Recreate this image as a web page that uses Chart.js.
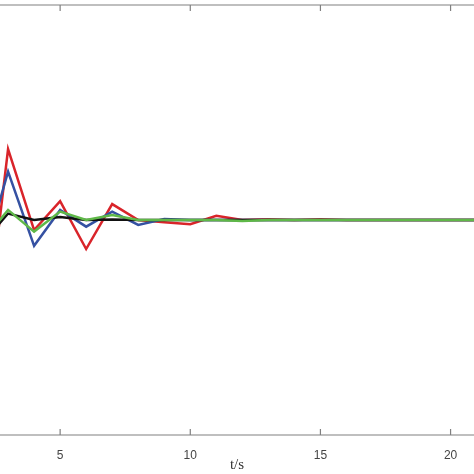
<!DOCTYPE html>
<html><head><meta charset="utf-8">
<script src="https://cdn.jsdelivr.net/npm/chart.js@4"></script>
<style>html,body{margin:0;padding:0;background:#fff}#w{width:474px;height:474px}</style>
</head><body><div id="w"><canvas id="c"></canvas></div>
<script>
const tValues = [2,3,4,5,6,7,8,9,10,11,12,13,14,15,16,17,18,19,20,21];
const red   = [-0.69,0.33,-0.047,0.088,-0.135,0.074,0.0,-0.01,-0.02,0.02,0.0,0.003,0.0,0.004,0.0,0.0,0.0,0.0,0.0,0.0];
const blue  = [-0.2,0.225,-0.12,0.047,-0.031,0.039,-0.023,0.005,0.0,0.0,0.0,0.0,0.0,0.0,0.0,0.0,0.0,0.0,0.0,0.0];
const black = [-0.11,0.03,0.0,0.014,0.0,0.002,0.0,0.0,0.0,0.0,0.0,0.0,0.0,0.0,0.0,0.0,0.0,0.0,0.0,0.0];
const green = [-0.1,0.047,-0.054,0.039,0.0,0.023,0.0,0.0,0.0,0.0,-0.005,0.0,0.0,0.0,0.0,0.0,0.0,0.0,0.0,0.0];
const xTicks = [5,10,15,20];
const pts = a => a.map((v,i)=>({x:tValues[i],y:v}));
const ds = (d,c)=>({data:pts(d),borderColor:c,borderWidth:2.5,pointRadius:0,tension:0,fill:false});
const axes = {id:'axes',afterDraw(ch){const c=ch.ctx,a=ch.chartArea,x=ch.scales.x;c.save();c.strokeStyle='#808080';c.lineWidth=1.2;
c.beginPath();c.moveTo(a.left,a.top);c.lineTo(a.right,a.top);c.moveTo(a.left,a.bottom);c.lineTo(a.right,a.bottom);
xTicks.forEach(t=>{const p=x.getPixelForValue(t);c.moveTo(p,a.top);c.lineTo(p,a.top+6);c.moveTo(p,a.bottom);c.lineTo(p,a.bottom-6);});
c.stroke();c.restore();}};
new Chart(document.getElementById('c'),{type:'line',
data:{datasets:[ds(green,'#5fb848'),ds(black,'#111111'),ds(blue,'#3551a2'),ds(red,'#d9242a')]},
options:{responsive:true,maintainAspectRatio:false,animation:false,
layout:{padding:{top:5,left:0,right:0,bottom:0}},
plugins:{legend:{display:false},tooltip:{enabled:false}},
scales:{
x:{type:'linear',min:2.69,max:20.9,grid:{display:false},border:{display:false},
afterBuildTicks(s){s.ticks=xTicks.map(v=>({value:v}));},
afterFit(s){s.height=39;},
ticks:{color:'#444',font:{family:'Helvetica, Arial, Liberation Sans',size:12},padding:5,maxRotation:0},
title:{display:true,text:'t/s',color:'#333',font:{family:'Liberation Serif, Times New Roman',size:15},padding:{top:0,bottom:0}}},
y:{display:false,min:-1,max:1}}},
plugins:[axes]});
</script></body></html>
